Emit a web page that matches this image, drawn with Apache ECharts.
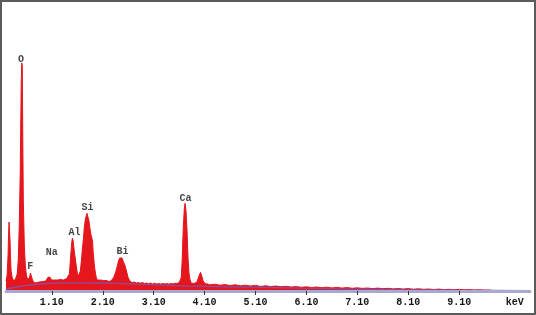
<!DOCTYPE html>
<html>
<head>
<meta charset="utf-8">
<script src="https://cdn.jsdelivr.net/npm/echarts@6/dist/echarts.min.js"></script>
<style>
  html, body { margin: 0; padding: 0; background: #fff; }
  #chart { width: 536px; height: 315px; }
</style>
</head>
<body>
<div id="chart"></div>
<script>
  // EDS spectrum, energy in keV, counts
  const spectrum = [
    [0.20, 100], [0.22, 150], [0.24, 350], [0.25, 560], [0.26, 690], [0.27, 670], [0.28, 500],
    [0.29, 320], [0.30, 200], [0.32, 140], [0.34, 110], [0.36, 100], [0.38, 110], [0.40, 130],
    [0.42, 170], [0.44, 300], [0.46, 650], [0.48, 1200], [0.49, 1700], [0.50, 2100], [0.51, 2280],
    [0.52, 2250], [0.53, 1500], [0.54, 900], [0.56, 450], [0.58, 250], [0.60, 160], [0.62, 120],
    [0.64, 100], [0.66, 130], [0.68, 180], [0.69, 200], [0.70, 190], [0.72, 110], [0.74, 90],
    [0.76, 80], [0.78, 95], [0.80, 85], [0.83, 80], [0.86, 90], [0.89, 85], [0.92, 95], [0.95, 90],
    [0.98, 100], [1.01, 120], [1.03, 140], [1.05, 150], [1.07, 135], [1.09, 110], [1.12, 100],
    [1.15, 110], [1.18, 100], [1.21, 110], [1.24, 105], [1.27, 115], [1.30, 105], [1.33, 110],
    [1.36, 120], [1.39, 125], [1.42, 140], [1.445, 170], [1.47, 350], [1.49, 480], [1.504, 527],
    [1.52, 500], [1.54, 400], [1.56, 330], [1.58, 250], [1.60, 180], [1.62, 150], [1.64, 155],
    [1.66, 200], [1.68, 300], [1.70, 420], [1.72, 520], [1.74, 650], [1.76, 720], [1.775, 750],
    [1.79, 777], [1.81, 760], [1.83, 700], [1.85, 620], [1.87, 560], [1.90, 500], [1.91, 400],
    [1.935, 260], [1.95, 200], [1.97, 140], [1.99, 110], [2.02, 100], [2.05, 110], [2.08, 100],
    [2.11, 105], [2.14, 95], [2.17, 105], [2.20, 100], [2.23, 95], [2.26, 105], [2.28, 110],
    [2.30, 125], [2.32, 140], [2.34, 170], [2.36, 200], [2.38, 240], [2.40, 280], [2.43, 330],
    [2.46, 343], [2.48, 330], [2.50, 300], [2.52, 290], [2.54, 250], [2.56, 210], [2.58, 170],
    [2.60, 130], [2.62, 110], [2.64, 95], [2.68, 85], [2.72, 90], [2.76, 80], [2.80, 85],
    [2.84, 78], [2.88, 85], [2.92, 75], [2.96, 80], [3.00, 72], [3.04, 80], [3.08, 70],
    [3.12, 78], [3.16, 70], [3.20, 75], [3.24, 68], [3.28, 76], [3.32, 70], [3.36, 74],
    [3.40, 68], [3.44, 75], [3.48, 70], [3.52, 78], [3.56, 75], [3.60, 85], [3.62, 100],
    [3.64, 130], [3.66, 310], [3.68, 620], [3.70, 810], [3.716, 877], [3.735, 800], [3.755, 600],
    [3.775, 320], [3.795, 170], [3.815, 110], [3.835, 80], [3.86, 70], [3.89, 75], [3.92, 70],
    [3.95, 90], [3.97, 120], [3.99, 150], [4.02, 187], [4.05, 140], [4.07, 100], [4.09, 80],
    [4.12, 70], [4.16, 72], [4.2, 62], [4.3, 68], [4.4, 58], [4.5, 64], [4.6, 55], [4.7, 62],
    [4.8, 52], [4.9, 58], [5.0, 50], [5.1, 56], [5.2, 46], [5.3, 52], [5.4, 44], [5.5, 50],
    [5.6, 42], [5.7, 47], [5.8, 40], [5.9, 45], [6.0, 37], [6.1, 42], [6.2, 35], [6.3, 40],
    [6.4, 33], [6.5, 38], [6.6, 31], [6.7, 36], [6.8, 29], [6.9, 34], [7.0, 27], [7.1, 32],
    [7.2, 26], [7.3, 30], [7.4, 24], [7.5, 29], [7.6, 23], [7.7, 27], [7.8, 21], [7.9, 25],
    [8.0, 20], [8.1, 24], [8.2, 18], [8.3, 22], [8.4, 17], [8.5, 20], [8.6, 15], [8.7, 19],
    [8.8, 14], [8.9, 17], [9.0, 13], [9.1, 16], [9.2, 12], [9.3, 14], [9.4, 10], [9.5, 13],
    [9.6, 8], [9.7, 10], [9.76, 0]
  ];

  // fitted background (purple line)
  const background = [
    [0.2, 20], [0.4, 40], [0.7, 60], [1.0, 75], [1.4, 82], [1.8, 82], [2.2, 78], [2.8, 68],
    [3.6, 52], [4.2, 46], [5.0, 38], [6.0, 28], [7.0, 19], [8.0, 13], [9.0, 9], [10.49, 4]
  ];

  const elementNames = ["O", "F", "Na", "Al", "Si", "Bi", "Ca"];
  const elementLabelKeV = [0.497, 0.674, 1.10, 1.547, 1.799, 2.49, 3.726];
  const elementLabelCounts = [2320, 250, 385, 590, 837, 400, 927];

  const tickValues = [1.1, 2.1, 3.1, 4.1, 5.1, 6.1, 7.1, 8.1, 9.1];
  const tickLabels = ["1.10", "2.10", "3.10", "4.10", "5.10", "6.10", "7.10", "8.10", "9.10"];
  const unitKeV = 10.19;
  const unitLabel = "keV";

  const labelFont = {
    color: "#151515",
    fontFamily: "Liberation Mono",
    fontWeight: "bold",
    fontSize: 10,
  };

  const chart = echarts.init(document.getElementById("chart"));

  chart.setOption({
    animation: false,
    backgroundColor: "#fff",
    grid: {
      left: 6,
      right: 6,
      top: 41,
      bottom: 24,
    },
    xAxis: {
      type: "value",
      min: 0.2,
      max: 10.49,
      z: 5,
      splitLine: { show: false },
      axisLine: {
        lineStyle: { color: "#a9a9d0", width: 3 },
      },
      axisTick: {
        customValues: tickValues,
        length: 4,
        lineStyle: { color: "#333", width: 1 },
      },
      axisLabel: {
        customValues: tickValues.concat([unitKeV]),
        margin: 6,
        ...labelFont,
        formatter: (v) => {
          const i = tickValues.findIndex((t) => Math.abs(t - v) < 1e-6);
          return i >= 0 ? tickLabels[i] : unitLabel;
        },
      },
    },
    yAxis: {
      type: "value",
      min: 0,
      max: 2500,
      show: false,
      splitLine: { show: false },
    },
    series: [
      {
        name: "spectrum",
        type: "line",
        data: spectrum,
        showSymbol: false,
        symbol: "none",
        lineStyle: { color: "#e5161d", width: 1 },
        areaStyle: { color: "#e5161d", opacity: 1 },
        z: 2,
      },
      {
        name: "background",
        type: "line",
        data: background,
        smooth: true,
        symbol: "none",
        lineStyle: { color: "#8a4fa0", width: 1.3 },
        z: 3,
      },
      {
        name: "elements",
        type: "scatter",
        symbolSize: 0.1,
        itemStyle: { color: "transparent" },
        data: elementNames.map((n, i) => ({
          name: n,
          value: [elementLabelKeV[i], elementLabelCounts[i]],
        })),
        label: {
          show: true,
          position: "inside",
          formatter: "{b}",
          ...labelFont,
        },
        z: 4,
      },
    ],
    graphic: [
      {
        type: "rect",
        shape: { x: 1, y: 1, width: 534, height: 313 },
        style: { fill: "none", stroke: "#5b5b5b", lineWidth: 2 },
        silent: true,
      },
    ],
  });
</script>
</body>
</html>
